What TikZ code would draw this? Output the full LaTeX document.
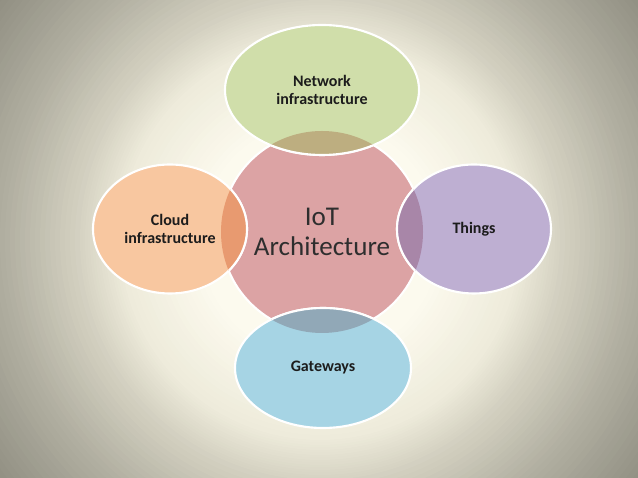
\documentclass[tikz,border=0pt]{standalone}
\usepackage{fontspec}
\setmainfont{Carlito}
\usetikzlibrary{shapes.geometric}

\definecolor{glowIn}{HTML}{FCFAEE}
\definecolor{glowMid}{HTML}{EEEBDB}
\definecolor{glowTop}{HTML}{D6D3C3}
\definecolor{glowSide}{HTML}{B0AEA0}
\definecolor{glowCorner}{HTML}{8F8D80}
\definecolor{coreRose}{HTML}{DCA3A4}
\definecolor{netGreen}{HTML}{D0DEAA}
\definecolor{netMix}{HTML}{BDAE80}
\definecolor{cloudPeach}{HTML}{F8C7A0}
\definecolor{cloudMix}{HTML}{E89A70}
\definecolor{thingLilac}{HTML}{BEAFD2}
\definecolor{thingMix}{HTML}{A886A8}
\definecolor{gateBlue}{HTML}{A6D4E4}
\definecolor{gateMix}{HTML}{91A8B7}
\definecolor{labelInk}{HTML}{1C1C1C}
\definecolor{coreInk}{HTML}{2E2E2E}

\begin{document}
\begin{tikzpicture}
            \tikzstyle{petal}=[ellipse, draw=white, line width=1.2pt, inner sep=0pt, align=center, text=labelInk, font=\bfseries\fontsize{9.1}{10.2}\selectfont]
            \tikzstyle{hub}=[circle, draw=white, line width=1.2pt, inner sep=0pt, align=center, text=coreInk, fill=coreRose, minimum size=4.04cm, font=\fontsize{15.4}{17}\selectfont]
            % background glow
            \begin{scope}
                \clip (0,0) rectangle (12.76,9.56);
                \fill [glowCorner] (0,0) rectangle (12.76,9.56);
                \foreach \ra/\rb/\ca/\cb in {8.2/6.4/glowCorner/glowSide, 6.4/4.8/glowSide/glowTop, 4.8/4.0/glowTop/glowMid, 4.0/2.4/glowMid/glowIn}{
                    \foreach \k in {0,...,15}{
                        \pgfmathsetmacro{\rr}{\ra-(\ra-\rb)*\k/16}
                        \pgfmathtruncatemacro{\pc}{100*\k/16}
                        \fill [\cb!\pc!\ca] (6.4,4.76) circle (\rr);
                    }
                }
                \fill [glowIn] (6.4,4.76) circle (2.4);
            \end{scope}
            \node [hub] (core) at (6.44,4.92) {IoT\\Architecture};
            \node [petal, fill=netGreen, minimum width=3.88cm, minimum height=2.6cm] (net) at (6.44,7.76) {Network\\infrastructure};
            \node [petal, fill=cloudPeach, minimum width=3.08cm, minimum height=2.58cm] (cloud) at (3.40,4.98) {Cloud\\infrastructure};
            \node [petal, fill=thingLilac, minimum width=3.08cm, minimum height=2.58cm] (thing) at (9.48,4.98) {Things};
            \node [petal, fill=gateBlue, minimum width=3.52cm, minimum height=2.4cm] (gate) at (6.46,2.2) {Gateways};
            \foreach \p/\w/\h/\mix in {net/1.94/1.3/netMix, cloud/1.54/1.29/cloudMix, thing/1.54/1.29/thingMix, gate/1.76/1.2/gateMix}{
                \begin{scope}
                    \clip (core.center) circle (2.02);
                    \fill [\mix] (\p.center) ellipse ({\w} and {\h});
                    \draw [white, line width=1.2pt] (\p.center) ellipse ({\w} and {\h});
                \end{scope}
            }
        \end{tikzpicture}
\end{document}
